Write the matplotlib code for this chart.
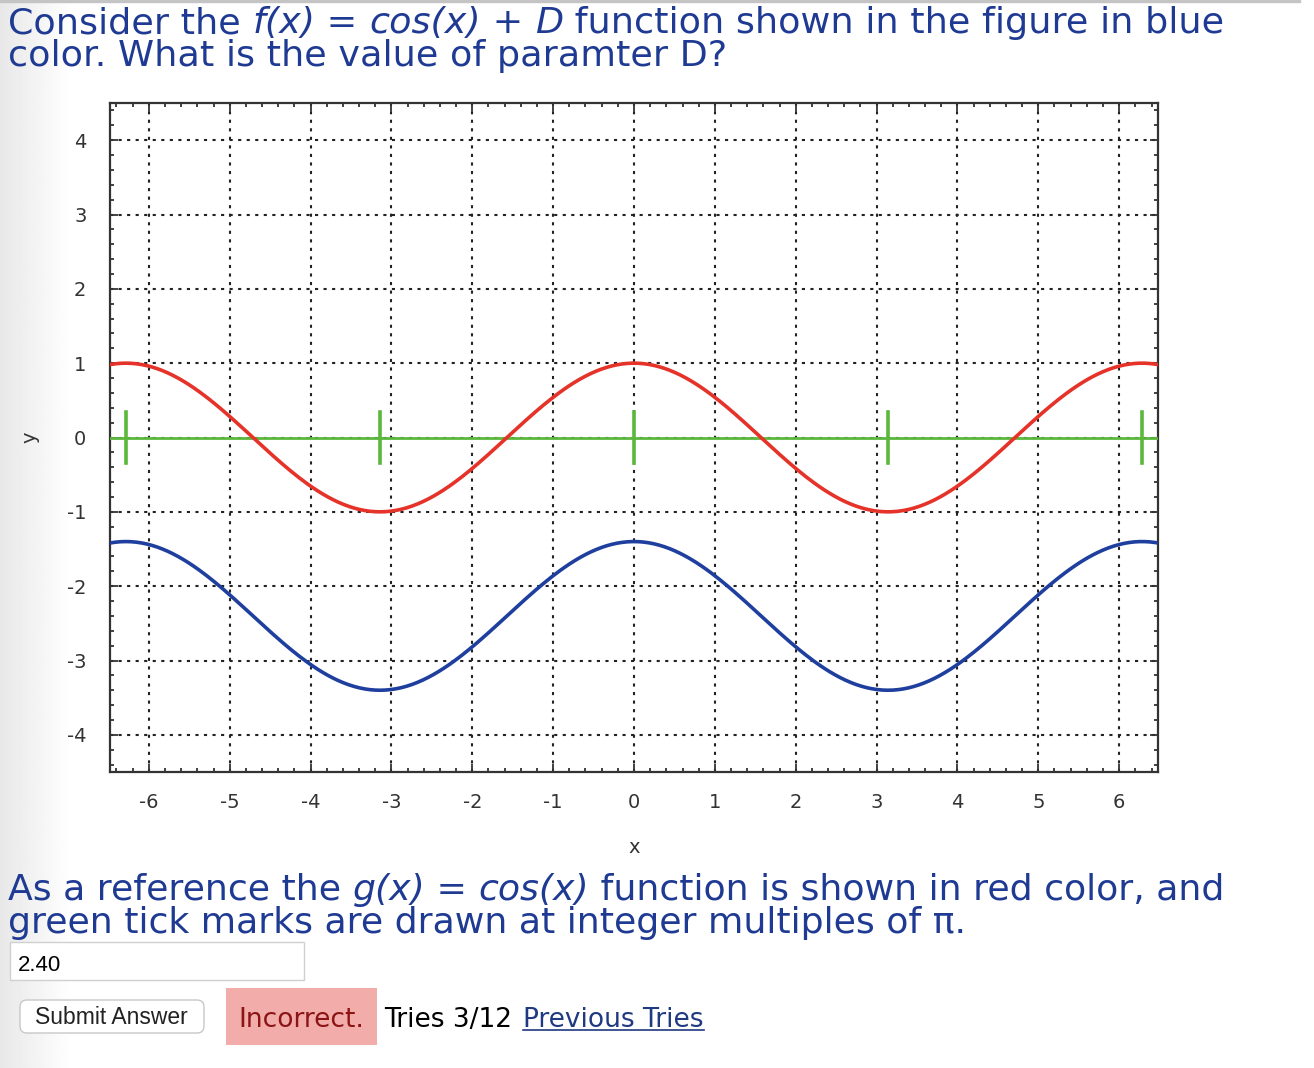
import numpy as np
import matplotlib
matplotlib.use("Agg")
import matplotlib.pyplot as plt
from matplotlib.patches import Rectangle, FancyBboxPatch

plt.rcParams["axes.unicode_minus"] = False

# ── values ────────────────────────────────────────────────────────────
x_limits = (-6.48, 6.48)
y_limits = (-4.5, 4.5)
x_ticks = [-6, -5, -4, -3, -2, -1, 0, 1, 2, 3, 4, 5, 6]
y_ticks = [-4, -3, -2, -1, 0, 1, 2, 3, 4]
D_blue = -2.4            # vertical shift of the blue curve (peak -1.4, trough -3.4)
D_red = 0.0              # reference g(x) = cos(x)
pi_multiples = [-2, -1, 0, 1, 2]
green_tick_half = 0.34
answer_text = "2.40"
tries_text = "Tries 3/12"

W, H = 1314, 1068
BLUE_TXT = "#1f3a93"


def fx(px):
    return px / W


def fy(py):
    return 1 - py / H


def advance(fig, s, **kw):
    r = fig.canvas.get_renderer()
    a = fig.text(0, 0, s + "|", **kw)
    b = fig.text(0, 0, "|", **kw)
    w = a.get_window_extent(r).width - b.get_window_extent(r).width
    a.remove()
    b.remove()
    return w


def draw_runs(fig, x_px, y_px, parts, size, color, family="DejaVu Sans"):
    x = x_px
    for s, style in parts:
        kw = dict(fontsize=size, style=style, family=family)
        fig.text(fx(x), fy(y_px), s, color=color, va="baseline", ha="left", **kw)
        x += advance(fig, s, **kw)
    return x


def fit_size(fig, parts, width_px, family="DejaVu Sans", base=20):
    w = sum(advance(fig, s, fontsize=base, style=st, family=family) for s, st in parts)
    return base * width_px / w


fig = plt.figure(figsize=(W / 100, H / 100), dpi=100)

# page background: soft gray fade on the left, thin gray line on top
bg = fig.add_axes([0, 0, 1, 1], zorder=-10)
grad = np.linspace(0, W, 600)
shade = np.clip(0.91 + 0.09 * (grad / 70.0), 0.91, 1.0)
bg.imshow(np.tile(shade, (2, 1)), cmap="gray", vmin=0, vmax=1, aspect="auto",
          extent=[0, W, H, 0])
bg.add_patch(Rectangle((0, 0), 1300, 2, color="#c4c4c4"))
bg.set_xlim(0, W)
bg.set_ylim(H, 0)
bg.axis("off")

# ── question text ─────────────────────────────────────────────────────
line1 = [("Consider the ", "normal"), ("f(x)", "italic"), (" = ", "normal"),
         ("cos(x)", "italic"), (" + ", "normal"), ("D", "italic"),
         (" function shown in the figure in blue", "normal")]
line2 = [("color. What is the value of paramter D?", "normal")]
ts = fit_size(fig, line1, 1212)
draw_runs(fig, 8, 33, line1, ts, BLUE_TXT)
draw_runs(fig, 8, 66, line2, ts, BLUE_TXT)

line3 = [("As a reference the ", "normal"), ("g(x)", "italic"), (" = ", "normal"),
         ("cos(x)", "italic"), (" function is shown in red color, and", "normal")]
line4 = [("green tick marks are drawn at integer multiples of π.", "normal")]
bs = fit_size(fig, line3, 1218)
draw_runs(fig, 8, 900, line3, bs, BLUE_TXT)
draw_runs(fig, 8, 933, line4, bs, BLUE_TXT)

# ── plot ──────────────────────────────────────────────────────────────
ax = fig.add_axes([fx(110), fy(772), fx(1158) - fx(110), fy(103) - fy(772)])
x = np.linspace(x_limits[0], x_limits[1], 400)

ax.axhline(0, color="#5cb83c", linewidth=2.0, zorder=3)
for k in pi_multiples:
    ax.plot([k * np.pi, k * np.pi], [-green_tick_half, green_tick_half],
            color="#5cb83c", linewidth=2.6, zorder=3)
ax.plot(x, np.cos(x) + D_red, color="#e5332a", linewidth=2.6, zorder=4)
ax.plot(x, np.cos(x) + D_blue, color="#1f3f9f", linewidth=2.6, zorder=4)

ax.set_xlim(*x_limits)
ax.set_ylim(*y_limits)
ax.set_xticks(x_ticks)
ax.set_yticks(y_ticks)
ax.set_xticks(np.arange(-6.4, 6.5, 0.2), minor=True)
ax.set_yticks(np.arange(-4.4, 4.5, 0.2), minor=True)
ax.tick_params(which="both", direction="in", top=True, right=True,
               width=1.3, colors="#333333", labelcolor="#333333")
ax.tick_params(which="major", length=6, labelsize=14)
ax.tick_params(which="minor", length=3)
ax.tick_params(axis="x", which="major", pad=15)
ax.tick_params(axis="y", which="major", pad=17)
ax.grid(True, which="major", color="#222222", linewidth=1.5,
        linestyle=(0, (1.5, 2.6)))
for sp in ax.spines.values():
    sp.set_linewidth(1.6)
    sp.set_color("#333333")
ax.set_xlabel("x", fontsize=14, color="#333333", labelpad=19)
ax.set_ylabel("y", fontsize=14, color="#333333", labelpad=20)

# ── answer widgets ────────────────────────────────────────────────────
bg.add_patch(Rectangle((10, 942), 294, 38, facecolor="white",
                       edgecolor="#d0d0d0", linewidth=1.0))
bg.text(18, 971, answer_text, fontsize=16, family="Liberation Sans",
        color="black", va="baseline")

bg.add_patch(FancyBboxPatch((20, 1000), 184, 33,
                            boxstyle="round,pad=0,rounding_size=7",
                            facecolor="white", edgecolor="#c8c8c8", linewidth=1.0))
bg.text(111, 1017, "Submit Answer", fontsize=16.5, family="Liberation Sans",
        color="#222222", ha="center", va="center")

bg.add_patch(Rectangle((226, 988), 151, 57, facecolor="#f2acaa", edgecolor="none"))
draw_runs(fig, 238, 1027, [("Incorrect.", "normal")], 19, "#8b1414")
draw_runs(fig, 384, 1027, [(tries_text, "normal")], 19, "black")
xe2 = draw_runs(fig, 523, 1027, [("Previous Tries", "normal")], 19, "#1f3a80")
bg.plot([523, xe2], [1030, 1030], color="#1f3a80", linewidth=1.2)

fig.savefig("out.png", dpi=100)
